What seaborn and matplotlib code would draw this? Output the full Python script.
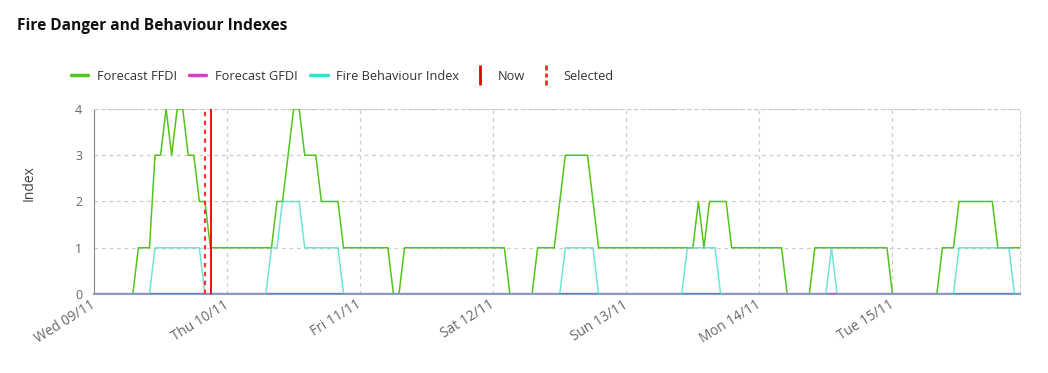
import pandas as pd
import matplotlib
matplotlib.use("Agg")
import matplotlib.pyplot as plt
import matplotlib.dates as mdates
from matplotlib.lines import Line2D
from matplotlib.path import Path
import seaborn as sns

# Dados horários: 09/11 00:00 até 15/11 23:00 (uma linha por dia)
inicio = "2022-11-09 00:00"
ffdi = [
    0, 0, 0, 0, 0, 0, 0, 0, 1, 1, 1, 3, 3, 4, 3, 4, 4, 3, 3, 2, 2, 1, 1, 1,
    1, 1, 1, 1, 1, 1, 1, 1, 1, 2, 2, 3, 4, 4, 3, 3, 3, 2, 2, 2, 2, 1, 1, 1,
    1, 1, 1, 1, 1, 1, 0, 0, 1, 1, 1, 1, 1, 1, 1, 1, 1, 1, 1, 1, 1, 1, 1, 1,
    1, 1, 1, 0, 0, 0, 0, 0, 1, 1, 1, 1, 2, 3, 3, 3, 3, 3, 2, 1, 1, 1, 1, 1,
    1, 1, 1, 1, 1, 1, 1, 1, 1, 1, 1, 1, 1, 2, 1, 2, 2, 2, 2, 1, 1, 1, 1, 1,
    1, 1, 1, 1, 1, 0, 0, 0, 0, 0, 1, 1, 1, 1, 1, 1, 1, 1, 1, 1, 1, 1, 1, 1,
    0, 0, 0, 0, 0, 0, 0, 0, 0, 1, 1, 1, 2, 2, 2, 2, 2, 2, 2, 1, 1, 1, 1, 1,
]
gfdi = [
    0, 0, 0, 0, 0, 0, 0, 0, 0, 0, 0, 0, 0, 0, 0, 0, 0, 0, 0, 0, 0, 0, 0, 0,
    0, 0, 0, 0, 0, 0, 0, 0, 0, 0, 0, 0, 0, 0, 0, 0, 0, 0, 0, 0, 0, 0, 0, 0,
    0, 0, 0, 0, 0, 0, 0, 0, 0, 0, 0, 0, 0, 0, 0, 0, 0, 0, 0, 0, 0, 0, 0, 0,
    0, 0, 0, 0, 0, 0, 0, 0, 0, 0, 0, 0, 0, 0, 0, 0, 0, 0, 0, 0, 0, 0, 0, 0,
    0, 0, 0, 0, 0, 0, 0, 0, 0, 0, 0, 0, 0, 0, 0, 0, 0, 0, 0, 0, 0, 0, 0, 0,
    0, 0, 0, 0, 0, 0, 0, 0, 0, 0, 0, 0, 0, 0, 0, 0, 0, 0, 0, 0, 0, 0, 0, 0,
    0, 0, 0, 0, 0, 0, 0, 0, 0, 0, 0, 0, 0, 0, 0, 0, 0, 0, 0, 0, 0, 0, 0, 0,
]
fbi = [
    0, 0, 0, 0, 0, 0, 0, 0, 0, 0, 0, 1, 1, 1, 1, 1, 1, 1, 1, 1, 0, 0, 0, 0,
    0, 0, 0, 0, 0, 0, 0, 0, 1, 1, 2, 2, 2, 2, 1, 1, 1, 1, 1, 1, 1, 0, 0, 0,
    0, 0, 0, 0, 0, 0, 0, 0, 0, 0, 0, 0, 0, 0, 0, 0, 0, 0, 0, 0, 0, 0, 0, 0,
    0, 0, 0, 0, 0, 0, 0, 0, 0, 0, 0, 0, 0, 1, 1, 1, 1, 1, 1, 0, 0, 0, 0, 0,
    0, 0, 0, 0, 0, 0, 0, 0, 0, 0, 0, 1, 1, 1, 1, 1, 1, 0, 0, 0, 0, 0, 0, 0,
    0, 0, 0, 0, 0, 0, 0, 0, 0, 0, 0, 0, 0, 1, 0, 0, 0, 0, 0, 0, 0, 0, 0, 0,
    0, 0, 0, 0, 0, 0, 0, 0, 0, 0, 0, 0, 1, 1, 1, 1, 1, 1, 1, 1, 1, 1, 0, 0,
]
agora = "2022-11-09 21:05"
selecionado = "2022-11-09 20:00"

tempo = pd.date_range(inicio, periods=len(ffdi), freq="h")
df = pd.DataFrame({"Tempo": tempo, "FFDI": ffdi, "GFDI": gfdi, "FBI": fbi})

verde = "#52c41a"
magenta = "#d83fc6"
ciano = "#40dccb"
vermelho = "#ee0000"
cinza = "#666666"

sns.set_style("white")
plt.rcParams["font.family"] = ["Open Sans", "DejaVu Sans"]

fig = plt.figure(figsize=(10.48, 3.73), dpi=100)
ax = fig.add_axes([0.0897, 0.2118, 0.8836, 0.496])

sns.lineplot(data=df, x="Tempo", y="FFDI", color=verde, lw=1.1, ax=ax, zorder=3)
sns.lineplot(data=df, x="Tempo", y="GFDI", color=magenta, lw=1.6, ax=ax, zorder=4)
sns.lineplot(data=df, x="Tempo", y="FBI", color=ciano, lw=1.1, alpha=0.75, ax=ax, zorder=5)

# Linhas "Now" e "Selected"
ax.axvline(pd.Timestamp(agora), color=vermelho, lw=1.3, zorder=6)
ax.axvline(pd.Timestamp(selecionado), color="#ff3333", lw=1.6, ls=(0, (2, 2)), zorder=6)

ax.set_xlim(tempo[0], tempo[-1])
ax.set_ylim(0, 4)
ax.set_yticks([0, 1, 2, 3, 4])
ax.xaxis.set_major_locator(mdates.DayLocator())
ax.xaxis.set_major_formatter(mdates.DateFormatter("%a %d/%m"))

ax.grid(True, color="#cccccc", ls=(0, (3, 3)), lw=0.9)
for lado in ["top", "right"]:
    ax.spines[lado].set_color("#cccccc")
    ax.spines[lado].set_linestyle((0, (3, 3)))
ax.spines["left"].set_color("#888888")
ax.spines["bottom"].set_color("#8aa0b4")
ax.spines["bottom"].set_linewidth(1.5)

ax.tick_params(axis="x", colors="#888888", length=5, width=1, pad=2,
               labelcolor=cinza, labelsize=9.8)
ax.tick_params(axis="y", colors="#888888", length=5, width=1, labelcolor=cinza, labelsize=9)
plt.setp(ax.get_xticklabels(), rotation=32, ha="right", va="center", rotation_mode="anchor")

ax.set_xlabel("")
ax.set_ylabel("Index", color="#444444", fontsize=10)
ax.yaxis.set_label_coords(-0.062, 0.6)

fig.text(0.016, 0.93, "Fire Danger and Behaviour Indexes", fontsize=11.2,
         fontweight="bold", color="#111111", va="center")

# Legenda
pontilhado = Path([(0, -1), (0, -0.55), (0, -0.2), (0, 0.2), (0, 0.55), (0, 1)],
                  [Path.MOVETO, Path.LINETO, Path.MOVETO, Path.LINETO, Path.MOVETO, Path.LINETO])
handles = [
    Line2D([], [], color=verde, lw=2.5),
    Line2D([], [], color=magenta, lw=2.5),
    Line2D([], [], color=ciano, lw=2.5),
    Line2D([], [], color=vermelho, marker="|", ls="None", markersize=14, mew=2),
    Line2D([], [], color="#ff3333", marker=pontilhado, ls="None", markersize=14, mew=2.2),
]
labels = ["Forecast FFDI", "Forecast GFDI", "Fire Behaviour Index", "Now", "Selected"]
fig.legend(handles, labels, loc="center left", bbox_to_anchor=(0.0563, 0.795), ncol=5,
           frameon=False, fontsize=9.2, handlelength=1.35, handletextpad=0.7,
           columnspacing=0.96, labelcolor="#333333")

plt.savefig("out.png", dpi=100)
